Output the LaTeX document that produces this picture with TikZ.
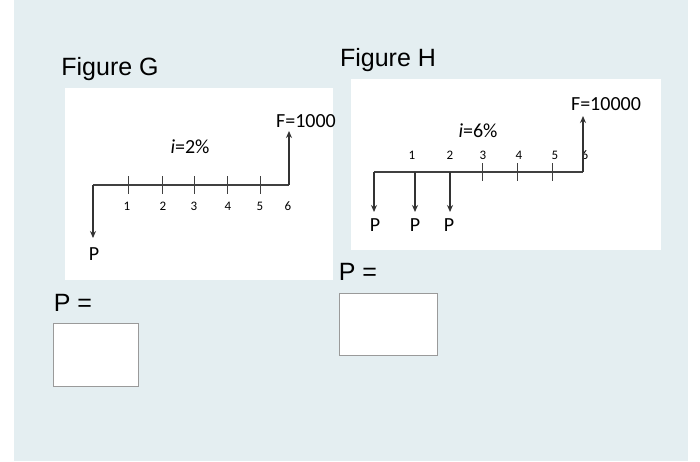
\documentclass[tikz,border=0pt]{standalone}
\usepackage{fontspec}
\setmainfont{Liberation Sans}
\newfontfamily\calib{Carlito}
\usetikzlibrary{arrows.meta}
\definecolor{PageClr}{HTML}{E4EEF1}
\definecolor{BoxClr}{HTML}{9A9A9A}

\begin{document}
\begin{tikzpicture}[x=1pt,y=-1pt,
  flow/.style={line width=1.4pt,color=black!80,-{Stealth[length=7pt,width=6pt]}},
  axis/.style={line width=1.4pt,color=black!75},
  tick/.style={line width=1pt,color=black!75},
  num/.style={font=\calib\fontsize{13}{13}\selectfont},
  lbl/.style={font=\calib\fontsize{20}{20}\selectfont},
  title/.style={font=\fontsize{25}{25}\selectfont},
  answer/.style={draw=BoxClr,line width=1pt,fill=white}]
\useasboundingbox (0,0) rectangle (700,461);
\fill[white] (0,0) rectangle (700,461);
\fill[PageClr] (14,0) rectangle (688,461);

% Figure G
\node[title] (titleG) at (110,69) {Figure G};
\fill[white] (65,88) rectangle (333,280);
\coordinate (g0) at (93,185);
\coordinate (g6) at (289,185);
\coordinate (gP) at (93,238);
\coordinate (gF) at (289,131);
\draw[axis] (g0) -- (g6);
\foreach \x in {128,162,194,227,260}
  \draw[tick] (\x,176) -- (\x,194);
\foreach \x/\n in {127/1,163/2,194/3,228/4,260/5,288/6}
  \node[num] at (\x,206) {\n};
\draw[flow] (g0) -- (gP);
\draw[flow] (g6) -- (gF);
\node[lbl] (PG) at (94,254) {P};
\node[lbl] (FG) at (306,121) {F=1000};
\node[lbl] (iG) at (190,147) {\textit{i}=2\%};
\node[title] (eqG) at (73,303) {P =};
\draw[answer] (53,323) rectangle (138,386);

% Figure H
\node[title] (titleH) at (388,60) {Figure H};
\fill[white] (351,79) rectangle (661,250);
\coordinate (h0) at (374,172);
\coordinate (h1) at (415,172);
\coordinate (h2) at (450,172);
\coordinate (h6) at (583,172);
\coordinate (hF) at (583,116);
\draw[axis] (h0) -- (h6);
\foreach \x in {482,517,552}
  \draw[tick] (\x,163) -- (\x,181);
\foreach \x/\n in {412/1,450/2,483/3,519/4,555/5,585/6}
  \node[num] at (\x,155) {\n};
\foreach \c/\x in {h0/375,h1/415,h2/449} {
  \draw[flow] (\c) -- ++(0,40);
  \node[lbl] at (\x,225) {P};
}
\draw[flow] (h6) -- (hF);
\node[lbl] (FH) at (606,104) {F=10000};
\node[lbl] (iH) at (478,131) {\textit{i}=6\%};
\node[title] (eqH) at (358,272) {P =};
\draw[answer] (339,293) rectangle (437,355);
\end{tikzpicture}
\end{document}
